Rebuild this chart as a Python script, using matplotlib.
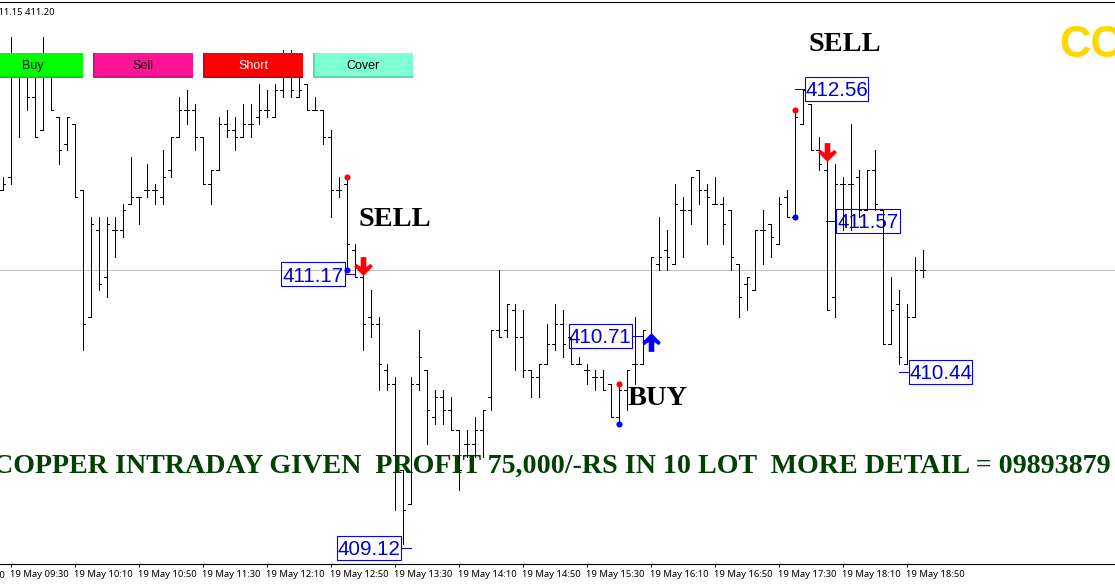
#!/usr/bin/env python3
"""MT4 style 5 minute copper bar chart with trade callouts."""
import matplotlib
matplotlib.use("Agg")
import matplotlib.pyplot as plt
from matplotlib.path import Path
from matplotlib.patches import Rectangle

W, H = 1115, 585

first_bar = -1
opens = [411.80, 411.90, 412.70, 412.70, 412.50, 412.25, 412.75, 412.35, 412.15, 412.30, 411.80, 410.85,
         411.50, 411.15, 411.50, 411.50, 411.70, 411.75, 411.80, 411.80, 411.75, 411.95, 412.20, 412.40,
         412.40, 412.20, 411.85, 411.95, 412.30, 412.25, 412.20, 412.30, 412.35, 412.40, 412.35, 412.55,
         412.70, 412.50, 412.60, 412.40, 412.40, 412.20, 411.80, 411.85, 411.35, 411.15, 410.85, 410.80,
         410.45, 410.35, 409.70, 409.45, 410.35, 410.45, 410.10, 410.25, 410.15, 410.00, 409.90, 409.90,
         410.00, 410.25, 410.75, 410.75, 410.90, 410.70, 410.45, 410.40, 410.50, 410.65, 410.80, 410.70,
         410.50, 410.45, 410.40, 410.40, 410.35, 410.10, 410.30, 410.50, 410.50, 410.70, 411.25, 411.35,
         411.25, 411.65, 411.65, 411.95, 411.80, 411.70, 411.70, 411.65, 411.25, 411.10, 411.05, 411.50,
         411.55, 411.40, 411.75, 411.60, 412.30, 412.45, 412.10, 411.95, 411.00, 411.85, 411.85, 411.90,
         411.65, 411.95, 411.65, 410.65, 410.95, 410.50, 410.85, 411.20]
highs = [411.90, 412.95, 412.80, 412.80, 412.80, 412.95, 412.80, 412.35, 412.35, 412.30, 411.80, 411.60,
         411.60, 411.60, 411.60, 411.70, 412.05, 411.75, 412.00, 411.85, 412.10, 412.20, 412.50, 412.55,
         412.45, 412.20, 411.95, 412.35, 412.40, 412.35, 412.45, 412.45, 412.60, 412.55, 412.60, 412.85,
         412.85, 412.70, 412.60, 412.50, 412.40, 412.25, 411.90, 411.90, 411.40, 411.20, 411.05, 410.85,
         410.50, 410.40, 409.70, 410.40, 410.75, 410.45, 410.30, 410.30, 410.25, 410.00, 410.00, 410.10,
         410.15, 410.75, 411.20, 410.95, 410.95, 410.90, 410.45, 410.50, 410.80, 410.95, 410.90, 410.70,
         410.55, 410.50, 410.45, 410.45, 410.35, 410.35, 410.45, 410.85, 410.75, 411.30, 411.60, 411.50,
         411.85, 411.75, 411.90, 411.95, 411.85, 411.90, 411.75, 411.65, 411.25, 411.15, 411.50, 411.65,
         411.55, 411.75, 411.80, 412.40, 412.55, 412.45, 412.20, 412.05, 412.00, 411.90, 412.30, 411.95,
         411.95, 412.10, 411.65, 411.15, 411.05, 410.95, 411.30, 411.35]
lows = [411.80, 411.85, 412.20, 412.40, 412.20, 412.25, 412.40, 412.00, 412.10, 411.75, 410.60, 410.85,
        411.05, 411.00, 411.30, 411.45, 411.70, 411.55, 411.75, 411.70, 411.70, 411.90, 412.20, 412.30,
        412.10, 411.85, 411.70, 411.95, 412.20, 412.10, 412.20, 412.20, 412.30, 412.35, 412.35, 412.50,
        412.50, 412.50, 412.40, 412.40, 412.15, 411.60, 411.75, 411.20, 411.15, 410.60, 410.70, 410.30,
        410.30, 409.40, 409.15, 409.45, 410.30, 409.90, 410.05, 410.05, 410.00, 409.55, 409.80, 409.80,
        409.80, 410.15, 410.70, 410.70, 410.45, 410.40, 410.25, 410.25, 410.50, 410.60, 410.55, 410.50,
        410.50, 410.35, 410.30, 410.30, 410.10, 410.05, 410.15, 410.35, 410.50, 410.70, 411.20, 411.20,
        411.25, 411.30, 411.55, 411.70, 411.40, 411.70, 411.40, 411.20, 410.85, 410.90, 411.05, 411.25,
        411.30, 411.40, 411.60, 411.60, 412.30, 412.10, 411.95, 410.90, 410.85, 411.50, 411.50, 411.60,
        411.65, 411.65, 410.65, 410.65, 410.50, 410.50, 410.85, 411.15]
closes = [411.85, 412.70, 412.70, 412.50, 412.20, 412.75, 412.40, 412.10, 412.35, 411.75, 410.80, 411.55,
          411.10, 411.55, 411.50, 411.65, 411.75, 411.75, 411.80, 411.80, 411.90, 412.20, 412.40, 412.40,
          412.20, 411.85, 411.95, 412.30, 412.25, 412.20, 412.30, 412.30, 412.40, 412.40, 412.55, 412.70,
          412.55, 412.55, 412.40, 412.40, 412.20, 411.80, 411.80, 411.40, 411.15, 410.80, 410.80, 410.50,
          410.35, 409.70, 409.40, 410.35, 410.55, 410.15, 410.25, 410.15, 410.00, 409.70, 409.90, 410.00,
          410.15, 410.75, 410.70, 410.95, 410.70, 410.45, 410.40, 410.50, 410.65, 410.80, 410.65, 410.50,
          410.50, 410.45, 410.40, 410.30, 410.10, 410.30, 410.45, 410.50, 410.75, 411.30, 411.30, 411.30,
          411.70, 411.65, 411.90, 411.80, 411.75, 411.70, 411.55, 411.30, 411.00, 411.15, 411.50, 411.50,
          411.45, 411.70, 411.60, 412.35, 412.55, 412.10, 412.00, 410.90, 411.85, 411.85, 411.85, 411.65,
          411.95, 411.70, 410.65, 410.90, 410.55, 410.85, 411.20, 411.20]

tick_labels = ["19 May 08:50", "19 May 09:30", "19 May 10:10", "19 May 10:50", "19 May 11:30", "19 May 12:10",
               "19 May 12:50", "19 May 13:30", "19 May 14:10", "19 May 14:50", "19 May 15:30", "19 May 16:10",
               "19 May 16:50", "19 May 17:30", "19 May 18:10", "19 May 18:50"]
last_price = 411.20

# bars that carry a red dot on the high and a blue dot on the low
dot_bars = [42, 76, 98]
sell_arrows = [(44, 411.235), (102, 412.09)]
buy_arrows = [(80, 410.66)]

# bar the leader line starts at, price, side of the box
callouts = [(43.06, 411.17, "left"), (78.94, 410.71, "left"), (50.06, 409.12, "left"),
            (98.06, 412.56, "right"), (101.94, 411.57, "right"), (111.06, 410.44, "right")]

buttons = [("Buy", "#00ff00", "#00d800", "black", -17), ("Sell", "#ff1493", "#d81080", "black", 93),
           ("Short", "#ff0000", "#d80000", "white", 203), ("Cover", "#7fffd4", "#60d8b0", "black", 313)]
big_labels = [("SELL", 359, 226), ("SELL", 809, 51), ("BUY", 628, 405)]
banner = "COPPER INTRADAY GIVEN  PROFIT 75,000/-RS IN 10 LOT  MORE DETAIL = 09893879"

ARROW = Path([(-0.15, 0.5), (0.15, 0.5), (0.15, -0.02), (0.38, 0.14), (0.5, 0.0), (0.0, -0.5),
              (-0.5, 0.0), (-0.38, 0.14), (-0.15, -0.02), (-0.15, 0.5)], closed=True)
ARROW_UP = Path(ARROW.vertices * [1, -1], closed=True)

LABEL_FONT = "Noto Sans"


def px_x(x):
    return x / W


def px_y(y):
    return 1 - y / H


fig = plt.figure(figsize=(W / 100, H / 100), dpi=100, facecolor="white")
ax = fig.add_axes([0, (H - 564) / H, 1, 562 / H])

xs = list(range(first_bar, first_bar + len(opens)))
ax.axhline(last_price, color="#c0c0c0", lw=0.75, zorder=1)
ax.vlines(xs, lows, highs, color="black", lw=0.72, antialiased=False, zorder=2)
ax.hlines(opens, [x - 0.3 for x in xs], xs, color="black", lw=0.72, antialiased=False, zorder=2)
ax.hlines(closes, xs, [x + 0.35 for x in xs], color="black", lw=0.72, antialiased=False, zorder=2)

for k in dot_bars:
    i = k - first_bar
    ax.plot(k, highs[i], "o", color="#ff0000", ms=4.4, mew=0, zorder=3)
    ax.plot(k, lows[i], "o", color="#0000ff", ms=4.4, mew=0, zorder=3)
for k, p in sell_arrows:
    ax.plot(k, p, marker=ARROW, color="#ff0000", ms=13.5, mew=0, zorder=4)
for k, p in buy_arrows:
    ax.plot(k, p, marker=ARROW_UP, color="#0000ff", ms=13.5, mew=0, zorder=4)

box_w, box_h = 63.5 / 8, 24 * 0.0075
for k, p, side in callouts:
    sign = 1 if side == "right" else -1
    edge = k + sign * 1.25
    left = edge if side == "right" else edge - box_w
    ax.hlines(p, k, edge, color="#0000cc", lw=0.72, antialiased=False, zorder=5)
    ax.add_patch(Rectangle((left, p - box_h / 2), box_w, box_h, fc="none", ec="#0000ff", lw=0.8, zorder=6))
    ax.text(left + box_w / 2, p, f"{p:.2f}", ha="center", va="center_baseline",
            family="Liberation Sans", fontsize=14.8, color="#0000cc", zorder=6)

for name in ("left", "right"):
    ax.spines[name].set_visible(False)
for name in ("top", "bottom"):
    ax.spines[name].set_linewidth(0.8)
ax.yaxis.set_visible(False)
ax.set_xticks(range(0, 8 * (len(tick_labels) - 1), 8))
ax.set_xticklabels(tick_labels[1:], ha="left", family=LABEL_FONT, fontsize=6.8, color="black")
ax.tick_params(axis="x", length=2.5, width=0.75, pad=2)
ax.set_xlim(-10.5 / 8, (W - 10.5) / 8)
ax.set_ylim(last_price + (270.3 - 564) * 0.0075, last_price + (270.3 - 2) * 0.0075)

# the tick left of the window still shows the tail of its label
fig.text(px_x(-54), px_y(578), tick_labels[0], family=LABEL_FONT, fontsize=6.8, color="black")

for label, face, dark, ink, x0 in buttons:
    fig.add_artist(Rectangle((px_x(x0), px_y(78)), 100 / W, 25 / H, transform=fig.transFigure,
                             fc=face, ec="none", zorder=7))
    fig.add_artist(Rectangle((px_x(x0), px_y(78)), 100 / W, 2 / H, transform=fig.transFigure,
                             fc=dark, ec="none", zorder=8))
    fig.add_artist(Rectangle((px_x(x0), px_y(78)), 2 / W, 25 / H, transform=fig.transFigure,
                             fc=dark, ec="none", zorder=8))
    fig.text(px_x(x0 + 50), px_y(66), label, ha="center", va="center", family="Liberation Sans",
             fontsize=9, color=ink, zorder=9)

for label, x, y in big_labels:
    fig.text(px_x(x), px_y(y), label, family="Liberation Serif", weight="bold", fontsize=20.4,
             color="black", zorder=9)
fig.text(px_x(-7), px_y(473), banner, family="Liberation Serif", weight="bold", fontsize=20.2,
         color="#004000", zorder=9)
fig.text(px_x(1059), px_y(57), "CC", family="Liberation Sans", weight="bold", fontsize=31.5,
         color="#ffd700", zorder=9)
fig.text(px_x(55), px_y(15), "411.15 411.20", ha="right", family=LABEL_FONT, fontsize=6.8,
         color="black", zorder=9)

fig.savefig("out.png", dpi=100)
